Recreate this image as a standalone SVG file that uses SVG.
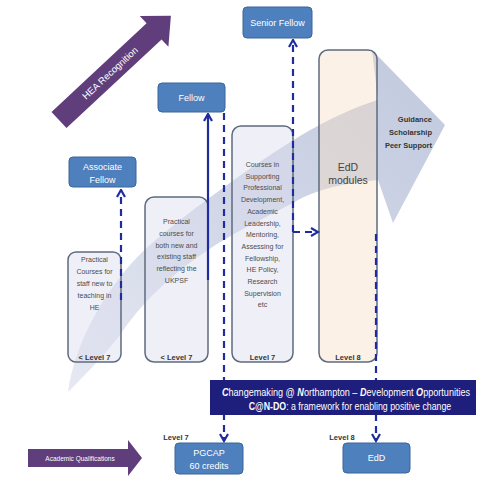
<svg xmlns="http://www.w3.org/2000/svg" width="480" height="480" viewBox="0 0 480 480">
<defs>
<linearGradient id="swoosh" x1="0" y1="1" x2="1" y2="0">
<stop offset="0" stop-color="#e6e9f2"/>
<stop offset="0.45" stop-color="#d2d8e8"/>
<stop offset="1" stop-color="#c1c9de"/>
</linearGradient>
<marker id="ah" viewBox="0 0 10 10" refX="8.5" refY="5" markerWidth="10" markerHeight="10" markerUnits="userSpaceOnUse" orient="auto">
<path d="M1.5,1 L8.5,5 L1.5,9" fill="none" stroke="#1f2c9e" stroke-width="2.2" stroke-dasharray="none"/>
</marker>
<style>
.tall{stroke:#5d6b7e;stroke-width:1.5}
.lav{fill:#dcdcee;fill-opacity:0.45}
.peach{fill:#f8dcc4;fill-opacity:0.4}
.bt{font-family:"Liberation Sans",Arial,sans-serif;font-size:7px;fill:#4d4d4d;text-anchor:middle}
.lv{font-family:"Liberation Sans",Arial,sans-serif;font-size:7.5px;font-weight:bold;fill:#333;text-anchor:middle}
.blue{fill:#4f80be;stroke:#3a6599;stroke-width:1}
.wt{font-family:"Liberation Sans",Arial,sans-serif;font-size:9px;fill:#ffffff;text-anchor:middle}
.con{fill:none;stroke:#1f2c9e;stroke-width:2.2}
.dash{stroke-dasharray:7 5}
.purple{fill:#603e7c}
.gd{font-family:"Liberation Sans",Arial,sans-serif;font-size:7.5px;font-weight:bold;fill:#333;text-anchor:end}
.bn{font-family:"Liberation Sans",Arial,sans-serif;font-size:10px;fill:#ffffff;text-anchor:middle}
</style>
</defs>
<rect width="480" height="480" fill="#ffffff"/>

<g id="swoosh-arrow">
<path d="M68,392 C75,340 110,280 150,245 C190,210 260,160 300,136 C330,118 360,105 378,100 L372,50 L445,125 L393,223 L378,180 C340,183 310,192 293,203 C260,220 230,235 208,250 C170,275 140,305 120,335 C100,360 80,380 68,392 Z" fill="url(#swoosh)"/>
</g>

<g id="hea-recognition">
<polygon class="purple" points="0,-11 130,-11 130,-21 153,0 130,21 130,11 0,11" transform="translate(59,120) rotate(-43)"/>
<text x="0" y="3.3" transform="translate(110,73) rotate(-43)" font-family="Liberation Sans, Arial, sans-serif" font-size="9.5" fill="#ffffff" text-anchor="middle">HEA Recognition</text>
</g>

<g id="box-practical-new">
<rect class="tall lav" x="68" y="252" width="53" height="110" rx="8"/>
<text class="bt" x="94.5" y="262">Practical</text>
<text class="bt" x="94.5" y="274">Courses for</text>
<text class="bt" x="94.5" y="286">staff new to</text>
<text class="bt" x="94.5" y="298">teaching in</text>
<text class="bt" x="94.5" y="310">HE</text>
<text class="lv" x="94.5" y="360">&lt; Level 7</text>
</g>

<g id="box-practical-both">
<rect class="tall lav" x="145" y="197" width="63" height="165" rx="9"/>
<text class="bt" x="176.5" y="224">Practical</text>
<text class="bt" x="176.5" y="236">courses for</text>
<text class="bt" x="176.5" y="247.5">both new and</text>
<text class="bt" x="176.5" y="259">existing staff</text>
<text class="bt" x="176.5" y="271">reflecting the</text>
<text class="bt" x="176.5" y="282.5">UKPSF</text>
<text class="lv" x="176.5" y="360">&lt; Level 7</text>
</g>

<g id="box-courses">
<rect class="tall lav" x="232" y="126" width="61" height="236" rx="9"/>
<text class="bt" x="262.5" y="167">Courses in</text>
<text class="bt" x="262.5" y="178.7">Supporting</text>
<text class="bt" x="262.5" y="190.4">Professional</text>
<text class="bt" x="262.5" y="202.1">Development,</text>
<text class="bt" x="262.5" y="213.8">Academic</text>
<text class="bt" x="262.5" y="225.5">Leadership,</text>
<text class="bt" x="262.5" y="237.2">Mentoring,</text>
<text class="bt" x="262.5" y="248.9">Assessing for</text>
<text class="bt" x="262.5" y="260.6">Fellowship,</text>
<text class="bt" x="262.5" y="272.3">HE Policy,</text>
<text class="bt" x="262.5" y="284">Research</text>
<text class="bt" x="262.5" y="295.7">Supervision</text>
<text class="bt" x="262.5" y="307.4">etc</text>
<text class="lv" x="262.5" y="360">Level 7</text>
</g>

<g id="box-edd-modules">
<rect class="tall peach" x="319" y="50" width="58" height="312" rx="9"/>
<text x="348" y="171" font-family="Liberation Sans, Arial, sans-serif" font-size="10.5" fill="#444" text-anchor="middle">EdD</text>
<text x="348" y="184" font-family="Liberation Sans, Arial, sans-serif" font-size="10.5" fill="#444" text-anchor="middle">modules</text>
<text class="lv" x="348" y="360">Level 8</text>
</g>

<g id="guidance-label">
<text class="gd" x="432" y="122">Guidance</text>
<text class="gd" x="432" y="135">Scholarship</text>
<text class="gd" x="432" y="148">Peer Support</text>
</g>

<g id="connectors">
<path class="con dash" d="M121,300 L121,190" marker-end="url(#ah)"/>
<path class="con" d="M208,280 L208,114" stroke-width="2" marker-end="url(#ah)"/>
<path class="con dash" d="M224,113 L224,441" marker-end="url(#ah)"/>
<path class="con dash" d="M293,232 L293,40" marker-end="url(#ah)"/>
<path class="con dash" d="M293,232 L318,232" marker-end="url(#ah)"/>
<path class="con dash" d="M376,234 L376,441" marker-end="url(#ah)"/>
</g>

<g id="node-associate-fellow">
<rect class="blue" x="69" y="157" width="67" height="30" rx="4"/>
<text class="wt" x="102.5" y="170">Associate</text>
<text class="wt" x="102.5" y="183">Fellow</text>
</g>

<g id="node-fellow">
<rect class="blue" x="158" y="83" width="67" height="29" rx="4"/>
<text class="wt" x="191.5" y="101">Fellow</text>
</g>

<g id="node-senior-fellow">
<rect class="blue" x="243" y="7" width="69" height="31" rx="4"/>
<text class="wt" x="277.5" y="26">Senior Fellow</text>
</g>

<g id="banner">
<rect x="210" y="380" width="266" height="35" fill="#1e1e7c"/>
<text class="bn" transform="translate(346,395.5) scale(0.91,1)"><tspan font-weight="bold" font-style="italic">C</tspan>hangemaking @ <tspan font-weight="bold" font-style="italic">N</tspan>orthampton – <tspan font-weight="bold" font-style="italic">D</tspan>evelopment <tspan font-weight="bold" font-style="italic">O</tspan>pportunities</text>
<text class="bn" transform="translate(350,410) scale(0.88,1)"><tspan font-weight="bold">C@N-DO</tspan>: a framework for enabling positive change</text>
</g>

<g id="academic-qualifications">
<polygon class="purple" points="28,449 128,449 128,440 142,458 128,476 128,467 28,467"/>
<text x="80" y="460.5" font-family="Liberation Sans, Arial, sans-serif" font-size="6.5" fill="#ffffff" text-anchor="middle">Academic Qualifications</text>
</g>

<g id="node-pgcap">
<text class="lv" x="176" y="440" text-anchor="start">Level 7</text>
<rect class="blue" x="175" y="443" width="68" height="31" rx="4"/>
<text class="wt" x="209" y="456">PGCAP</text>
<text class="wt" x="209" y="469">60 credits</text>
</g>

<g id="node-edd">
<text class="lv" x="342" y="440" text-anchor="start" font-size="7">Level 8</text>
<rect class="blue" x="343" y="443" width="67" height="30" rx="4"/>
<text class="wt" x="376.5" y="461">EdD</text>
</g>
</svg>
